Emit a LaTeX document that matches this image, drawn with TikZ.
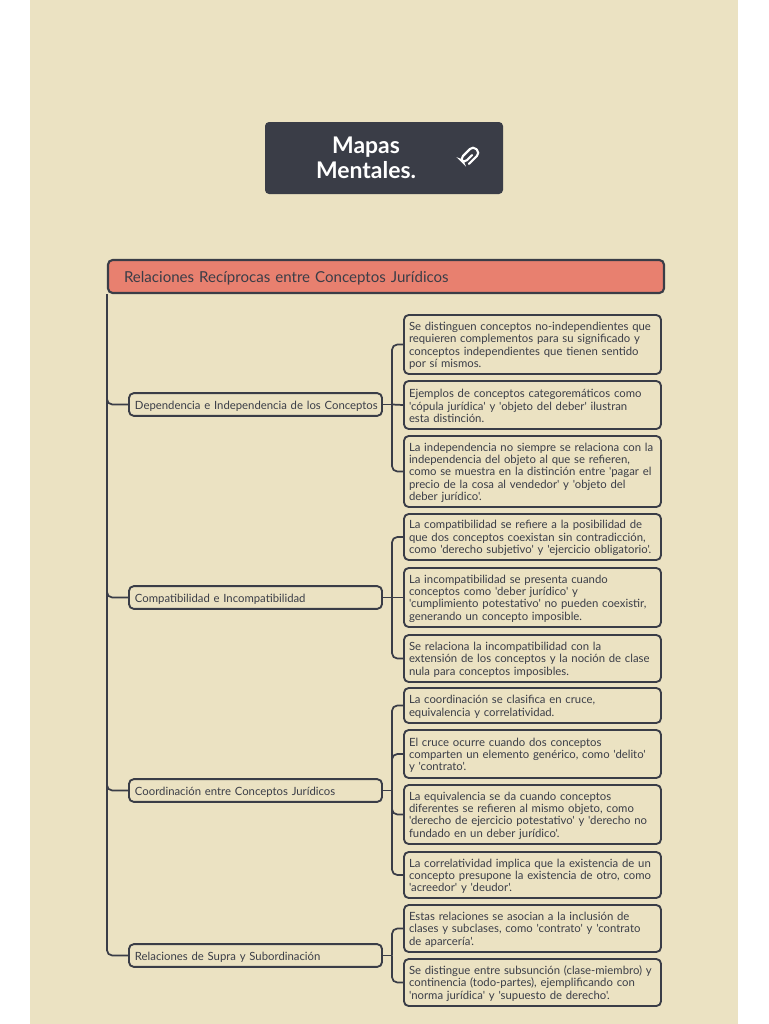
\documentclass[tikz,border=0pt]{standalone}
\usepackage{fontspec}
\setmainfont{Lato}[Ligatures=TeXOff]
\definecolor{paper}{HTML}{EBE2C2}
\definecolor{ink}{HTML}{3A3D47}
\definecolor{salmon}{HTML}{E8806F}
\tikzset{
  leafbox/.style={draw=ink,line width=1.4pt,rounded corners=3.5pt,fill=paper,text=ink,
    minimum width=192.75pt,inner sep=0pt,text width=185.25pt,align=left,
    execute at begin node={\rule{0pt}{8pt}},
    font=\fontsize{8.5}{9.25}\selectfont},
  midbox/.style={draw=ink,line width=1.4pt,rounded corners=3.5pt,fill=paper,text=ink,
    minimum width=189.75pt,minimum height=17pt,inner sep=0pt,text width=186pt,align=left,
    execute at begin node={\hspace*{2.6pt}\rule{0pt}{9.3pt}},
    font=\fontsize{8.5}{9.25}\selectfont},
  rootbox/.style={draw=ink,line width=1.6pt,rounded corners=3.5pt,fill=salmon,text=ink,
    minimum width=417pt,minimum height=24.75pt,inner sep=0pt,text width=393pt,align=left,
    execute at begin node={\rule{0pt}{11.5pt}},
    font=\fontsize{11.3}{13}\selectfont},
  titlebox/.style={fill=ink,rounded corners=3pt,minimum width=178.5pt,minimum height=54pt,inner sep=0pt},
  conn/.style={draw=ink,line width=1.3pt,rounded corners=4pt},
  stub/.style={draw=ink,line width=1.3pt}
}
\begin{document}
\begin{tikzpicture}[x=0.75pt,y=-0.75pt]
\useasboundingbox (0,0) rectangle (768,1024);
\fill[white] (0,0) rectangle (768,1024);
\fill[paper] (30,0) rectangle (738,1024);

\node[titlebox] (title) at (384,158) {};
\node[text=white,font=\fontsize{17.2}{18.75}\bfseries\selectfont,align=center] (titletext) at (366,157.5) {Mapas\\Mentales.};
\begin{scope}[shift={(468.5,157)},x=0.75pt,y=0.75pt,rotate=45]
  \draw[white,line width=1.6pt,line cap=round,rounded corners=3.2pt]
    (4,-1.2) -- (-7.5,-1.2) -- (-7.5,4.6) -- (11,4.6) -- (11,-5.2) -- (-4.5,-5.2);
\end{scope}

\node[rootbox] (root) at (386,276.5) {Relaciones Recíprocas entre Conceptos Jurídicos};
\coordinate (trunk) at (root.south west);

\node[midbox] (m1) at (255.5,404.5) {Dependencia e Independencia de los Conceptos};
\node[midbox] (m2) at (255.5,597.5) {Compatibilidad e Incompatibilidad};
\node[midbox] (m3) at (255.5,790.5) {Coordinación entre Conceptos Jurídicos};
\node[midbox] (m4) at (255.5,955.5) {Relaciones de Supra y Subordinación};

\node[leafbox,minimum height=44.25pt] (l1) at (532.5,344.5) {Se distinguen conceptos no-independientes que\\requieren complementos para su significado y\\conceptos independientes que tienen sentido\\por sí mismos.};
\node[leafbox,minimum height=36pt] (l2) at (532.5,405) {Ejemplos de conceptos categoremáticos como\\'cópula jurídica' y 'objeto del deber' ilustran\\esta distinción.};
\node[leafbox,minimum height=53.25pt] (l3) at (532.5,471.5) {La independencia no siempre se relaciona con la\\independencia del objeto al que se refieren,\\como se muestra en la distinción entre 'pagar el\\precio de la cosa al vendedor' y 'objeto del\\deber jurídico'.};
\node[leafbox,minimum height=34.5pt] (l4) at (532.5,537) {La compatibilidad se refiere a la posibilidad de\\que dos conceptos coexistan sin contradicción,\\como 'derecho subjetivo' y 'ejercicio obligatorio'.};
\node[leafbox,minimum height=44.25pt] (l5) at (532.5,597.5) {La incompatibilidad se presenta cuando\\conceptos como 'deber jurídico' y\\'cumplimiento potestativo' no pueden coexistir,\\generando un concepto imposible.};
\node[leafbox,minimum height=35.25pt] (l6) at (532.5,658.5) {Se relaciona la incompatibilidad con la\\extensión de los conceptos y la noción de clase\\nula para conceptos imposibles.};
\node[leafbox,minimum height=26.25pt] (l7) at (532.5,705.5) {La coordinación se clasifica en cruce,\\equivalencia y correlatividad.};
\node[leafbox,minimum height=36pt] (l8) at (532.5,754) {El cruce ocurre cuando dos conceptos\\comparten un elemento genérico, como 'delito'\\y 'contrato'.};
\node[leafbox,minimum height=44.25pt] (l9) at (532.5,814.5) {La equivalencia se da cuando conceptos\\diferentes se refieren al mismo objeto, como\\'derecho de ejercicio potestativo' y 'derecho no\\fundado en un deber jurídico'.};
\node[leafbox,minimum height=34.5pt] (l10) at (532.5,875) {La correlatividad implica que la existencia de un\\concepto presupone la existencia de otro, como\\'acreedor' y 'deudor'.};
\node[leafbox,minimum height=35.25pt] (l11) at (532.5,928.5) {Estas relaciones se asocian a la inclusión de\\clases y subclases, como 'contrato' y 'contrato\\de aparcería'.};
\node[leafbox,minimum height=35.25pt] (l12) at (532.5,982.5) {Se distingue entre subsunción (clase-miembro) y\\continencia (todo-partes), ejemplificando con\\'norma jurídica' y 'supuesto de derecho'.};

\foreach \m in {m1,m2,m3,m4} \draw[conn] (trunk) |- (\m.west);
\coordinate (s1) at (392,404.5);
\coordinate (s2) at (392,597.5);
\coordinate (s3) at (392,790.5);
\coordinate (s4) at (392,955.5);
\draw[stub] (m1.east) -- (s1);
\draw[stub] (m2.east) -- (s2);
\draw[stub] (m3.east) -- (s3);
\draw[stub] (m4.east) -- (s4);
\foreach \l in {l1,l3} \draw[conn] (s1) |- (\l.west);
\draw[stub] (s1) -- (l2.west);
\foreach \l in {l4,l6} \draw[conn] (s2) |- (\l.west);
\draw[stub] (s2) -- (l5.west);
\foreach \l in {l7,l8,l9,l10} \draw[conn] (s3) |- (\l.west);
\foreach \l in {l11,l12} \draw[conn] (s4) |- (\l.west);
\end{tikzpicture}
\end{document}
